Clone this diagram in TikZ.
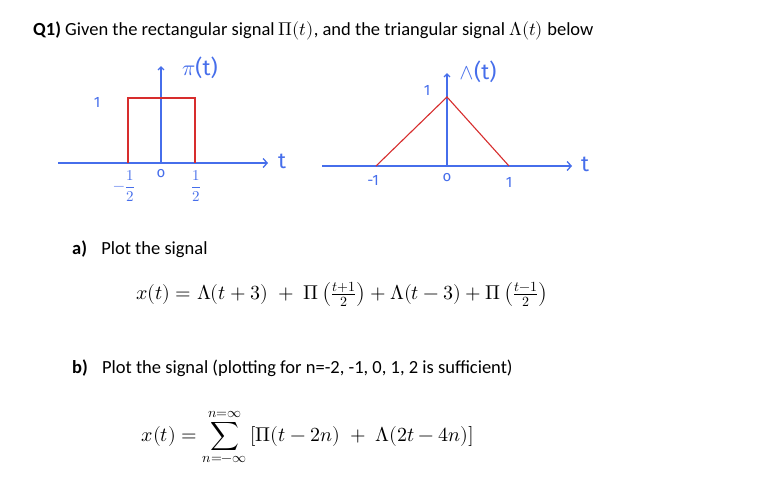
\documentclass[tikz,border=0pt]{standalone}
\usepackage{unicode-math}
\setmainfont{Carlito}
\setmathfont{Latin Modern Math}
\newfontfamily\hand{Fira Sans}
\usetikzlibrary{arrows.meta}
\definecolor{hb}{RGB}{70,110,235}
\definecolor{hr}{RGB}{215,45,45}
\tikzset{ax/.style={hb,line width=1.3pt},
 hx/.style={ax,-{Straight Barb[length=4pt,width=9pt]}},
 vx/.style={ax,-{Straight Barb[length=3pt,width=6pt]}},
 sig/.style={hr,line width=1.1pt},
 hl/.style={hb,font=\hand\fontsize{15}{15}\selectfont,inner sep=0},
 txt/.style={anchor=west,inner sep=0,font=\fontsize{18.5}{20}\selectfont},
 eq/.style={inner sep=0,font=\fontsize{20}{22}\selectfont}}
\begin{document}
\begin{tikzpicture}[x=1pt,y=-1pt]
\useasboundingbox[fill=white] (0,0) rectangle (769,499);
\node[txt] (q) at (33,31) {\textbf{Q1)} Given the rectangular signal $\mupPi(t)$, and the triangular signal $\mupLambda(t)$ below};
% left plot
\coordinate (l0) at (58,163); \coordinate (l1) at (268,163);
\coordinate (lv0) at (161,163); \coordinate (lv1) at (161,66);
\draw[hx] (l0) -- (l1);
\draw[vx] (lv0) -- (lv1);
\draw[sig] (128,163) -- (128,98) -- (195,98) -- (195,163);
\node[hl] (lt) at (282,161) {\fontsize{22}{22}\selectfont t};
\node[hl] (lpi) at (200,68) {\fontsize{22}{22}\selectfont $\pi$(t)};
\node[hl] (l1l) at (97,102) {1};
\node[hl] (lm) at (124,186) {$-\dfrac{1}{2}$};
\node[hl] (lz) at (161,174) {o};
\node[hl] (lp) at (196,186) {$\dfrac{1}{2}$};
% right plot
\coordinate (r0) at (322,166); \coordinate (r1) at (572,166);
\coordinate (rv0) at (447,166); \coordinate (rv1) at (447,73);
\draw[hx] (r0) -- (r1);
\draw[vx] (rv0) -- (rv1);
\draw[sig] (376,166) -- (447,97) -- (509,166);
\node[hl] (rt) at (585,164) {\fontsize{22}{22}\selectfont t};
\node[hl] (rla) at (478,72) {\fontsize{22}{22}\selectfont $\wedge$(t)};
\node[hl] (r1l) at (427,90) {1};
\node[hl] (rm) at (373,180) {-1};
\node[hl] (rz) at (447,178) {o};
\node[hl] (rp) at (509,182) {1};
% part a
\node[txt] (a) at (72,249) {\textbf{a)}\hspace{10pt} Plot the signal};
\node[eq] (ea) at (342,294) {$x(t)=\mupLambda(t+3)\;+\;\mupPi\left(\frac{t+1}{2}\right)+\mupLambda(t-3)+\mupPi\left(\frac{t-1}{2}\right)$};
\node[txt] (b) at (72,368) {\textbf{b)}\hspace{10pt} Plot the signal (plotting for n=-2, -1, 0, 1, 2 is sufficient)};
\node[eq] (eb) at (308,437) {$\displaystyle x(t)=\sum_{n=-\infty}^{n=\infty}\,[\mupPi(t-2n)\;+\;\mupLambda(2t-4n)]$};
\end{tikzpicture}
\end{document}
